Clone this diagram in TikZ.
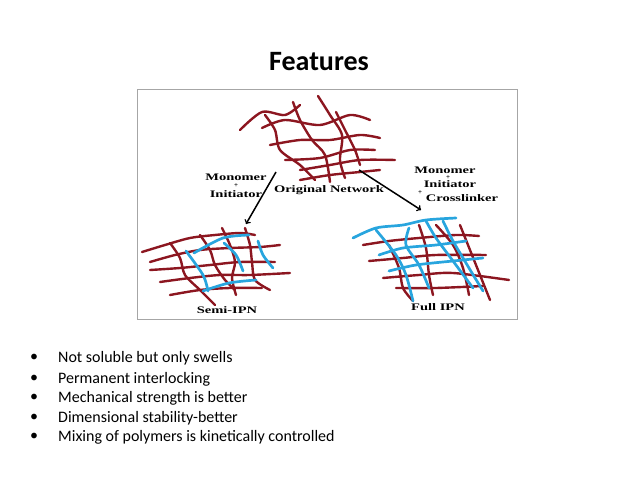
\documentclass[tikz,border=0pt]{standalone}
\usepackage{fontspec}
\setmainfont{Carlito}
\newfontfamily\figfont{Liberation Serif}
\begin{document}
\begin{tikzpicture}[x=1pt,y=-1pt,
  rl/.style={draw={rgb,255:red,140;green,22;blue,32},line width=2.4pt,line cap=round},
  bl/.style={draw={rgb,255:red,40;green,165;blue,222},line width=2.7pt,line cap=round},
  ft/.style={font=\figfont\bfseries\fontsize{10}{10}\selectfont,inner sep=0pt,xscale=1.45},
  pt/.style={font=\figfont\bfseries\fontsize{7}{7}\selectfont,inner sep=0pt},
  bt/.style={anchor=west,font=\fontsize{16}{18}\selectfont,inner sep=0pt}]
\useasboundingbox (0,0) rectangle (638,478);
\node[font=\bfseries\fontsize{28}{32}\selectfont] (title) at (319,62) {Features};
\draw[gray!70,line width=0.8pt] (137,89) rectangle (517,319);
% original network
\foreach \p in {
 {(240,130)(262,112)(285,115)(300,105)},
 {(262,128)(285,120)(320,125)(350,115)(370,120)},
 {(270,145)(300,140)(330,140)(360,135)(380,138)},
 {(285,160)(320,158)(350,150)(375,150)},
 {(300,170)(330,165)(360,160)(395,160)},
 {(300,180)(330,175)(360,172)(380,170)},
 {(265,115)(275,130)(280,150)(300,165)(315,180)},
 {(293,102)(300,120)(312,140)(325,155)(330,182)},
 {(318,96)(330,115)(342,135)(340,160)(345,178)},
 {(336,112)(345,130)(355,150)(360,165)}}
 \draw[rl] plot[smooth] coordinates \p;
% semi-IPN
\foreach \p in {
 {(142,252)(165,245)(190,238)(215,235)(240,233)(255,235)},
 {(150,262)(175,255)(200,250)(230,248)(260,247)(280,245)},
 {(150,270)(180,268)(210,265)(240,262)(275,262)},
 {(160,282)(190,278)(220,275)(250,275)(290,273)},
 {(170,295)(200,290)(230,288)(262,288)},
 {(170,243)(180,258)(185,275)(200,290)(215,305)},
 {(200,235)(210,250)(215,265)(225,280)(235,290)},
 {(222,228)(230,245)(235,262)(232,278)(236,295)},
 {(245,228)(250,245)(252,262)(255,280)(270,290)}}
 \draw[rl] plot[smooth] coordinates \p;
\foreach \p in {
 {(186,251)(203,275)(208,291)},
 {(194,253)(223,238)(249,235)},
 {(224,243)(236,255)(243,271)},
 {(258,241)(263,255)(273,268)},
 {(203,291)(229,283)(256,280)}}
 \draw[bl] plot[smooth] coordinates \p;
% full IPN
\foreach \p in {
 {(363,245)(389,241)(419,238)(456,235)(479,236)},
 {(369,261)(403,258)(436,255)(486,255)},
 {(383,278)(419,275)(453,273)(509,280)},
 {(396,288)(436,288)(483,286)},
 {(389,245)(399,268)(403,288)(413,301)},
 {(419,225)(426,248)(429,275)(433,295)},
 {(436,225)(453,245)(463,268)(469,295)},
 {(460,225)(470,250)(480,275)(490,300)}}
 \draw[rl] plot[smooth] coordinates \p;
\foreach \p in {
 {(376,230)(396,255)(406,275)(413,301)},
 {(409,228)(406,245)(419,265)(429,288)},
 {(426,221)(436,238)(453,261)(473,288)},
 {(443,221)(453,241)(469,268)(483,291)},
 {(353,238)(376,228)(403,225)(426,220)(456,218)},
 {(379,255)(403,248)(436,245)(466,241)},
 {(389,271)(416,265)(453,261)(483,258)}}
 \draw[bl] plot[smooth] coordinates \p;
% labels
\node[ft] (m1) at (236,177) {Monomer};
\node[pt] (p1) at (236,185.5) {+};
\node[ft] (i1) at (236,194) {Initiator};
\node[ft] (on) at (329,190) {Original Network};
\node[ft] (m2) at (445,170) {Monomer};
\node[pt] (p2) at (448,177.5) {+};
\node[ft] (i2) at (450,184) {Initiator};
\node[pt] (p3) at (420,193) {+};
\node[ft] (cl) at (462,198) {Crosslinker};
\node[ft] (semi) at (227,310) {Semi-IPN};
\node[ft] (full) at (438,307) {Full IPN};
\coordinate (a1s) at (276,172); \coordinate (a1e) at (246,224);
\coordinate (a2s) at (359,170); \coordinate (a2e) at (421,210);
\draw[->,line width=1.5pt] (a1s) -- (a1e);
\draw[->,line width=1.5pt] (a2s) -- (a2e);
% bullets
\foreach \y/\t in {358/Not soluble but only swells,379/Permanent interlocking,398/Mechanical strength is better,418/Dimensional stability-better,437/Mixing of polymers is kinetically controlled}{
 \node[bt] at (30,\y) {\textbullet};
 \node[bt] at (58,\y) {\t};
}
\end{tikzpicture}
\end{document}
